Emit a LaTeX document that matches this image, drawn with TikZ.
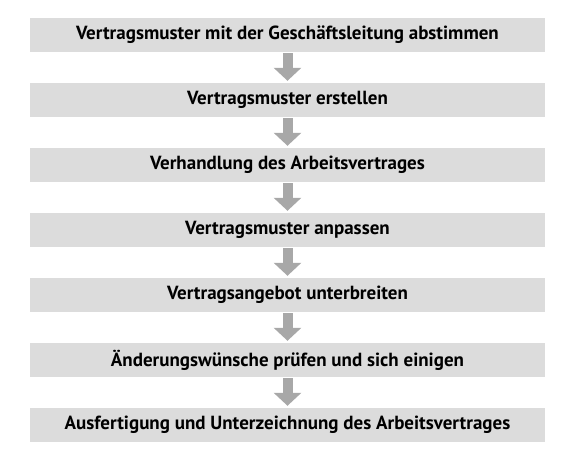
\documentclass[tikz,border=0pt]{standalone}
\usepackage{fontspec}
\setmainfont{PT Sans}
\usepackage{tikz}
\usetikzlibrary{arrows.meta}

\definecolor{boxgray}{RGB}{220,220,220}
\definecolor{arrowgray}{RGB}{168,168,168}

\begin{document}
\begin{tikzpicture}[x=1pt,y=1pt,
		box/.style={fill=boxgray,draw=none,minimum width=515pt,minimum height=34pt,
			inner sep=0pt,font=\fontsize{19}{21}\selectfont\bfseries},
		flow/.style={draw=arrowgray,line width=10pt,
			-{Triangle[width=27pt,length=13pt]},shorten <=1pt,shorten >=2pt}]
		
		\useasboundingbox (0,0) rectangle (567,-460);
		
		%schritte
		\foreach[count=\i,evaluate=\i as \ypos using -35-(\i-1)*65] \text in {
			Vertragsmuster mit der Geschäftsleitung abstimmen,
			Vertragsmuster erstellen,
			Verhandlung des Arbeitsvertrages,
			Vertragsmuster anpassen,
			Vertragsangebot unterbreiten,
			Änderungswünsche prüfen und sich einigen,
			Ausfertigung und Unterzeichnung des Arbeitsvertrages}
		\node[box] (box\i) at (287.5,\ypos) {\text};
		
		%pfeile
		\foreach \i [evaluate=\i as \j using int(\i+1)] in {1,...,6}
		\draw[flow] (box\i.south) -- (box\j.north);
		
	\end{tikzpicture}
\end{document}
